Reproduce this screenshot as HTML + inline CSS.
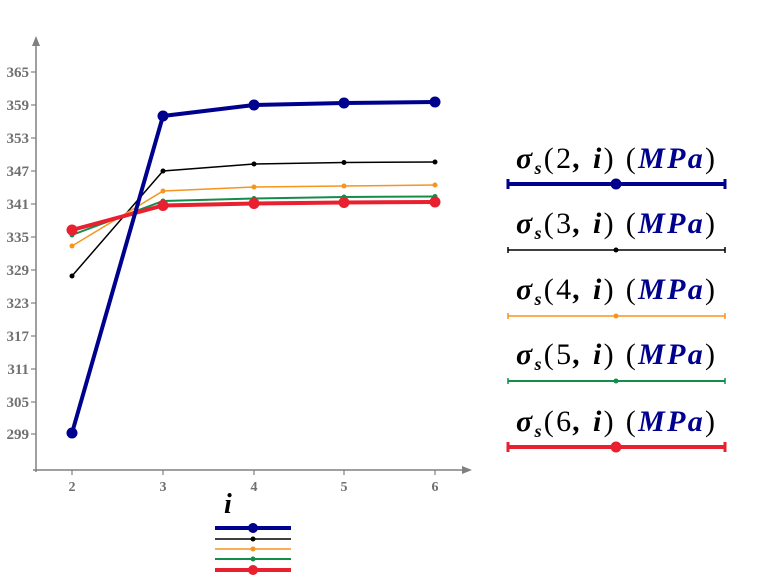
<!DOCTYPE html>
<html><head><style>body{margin:0;background:#fff}svg{display:block}</style></head><body>
<svg width="762" height="580" xmlns="http://www.w3.org/2000/svg" font-family="Liberation Serif, serif">
<rect width="762" height="580" fill="#fff"/>
<g stroke="#808080" stroke-width="1.5" fill="none">
<line x1="36" y1="44" x2="36" y2="472"/>
<line x1="33" y1="470" x2="464" y2="470"/>
<g stroke-width="1.2">
<line x1="31" y1="72" x2="36" y2="72"/><line x1="31" y1="105" x2="36" y2="105"/><line x1="31" y1="138" x2="36" y2="138"/><line x1="31" y1="171" x2="36" y2="171"/><line x1="31" y1="204" x2="36" y2="204"/><line x1="31" y1="237" x2="36" y2="237"/><line x1="31" y1="270" x2="36" y2="270"/><line x1="31" y1="303" x2="36" y2="303"/><line x1="31" y1="336" x2="36" y2="336"/><line x1="31" y1="369" x2="36" y2="369"/><line x1="31" y1="402" x2="36" y2="402"/><line x1="31" y1="434" x2="36" y2="434"/>
<line x1="72" y1="470" x2="72" y2="475"/><line x1="163" y1="470" x2="163" y2="475"/><line x1="254" y1="470" x2="254" y2="475"/><line x1="344" y1="470" x2="344" y2="475"/><line x1="435" y1="470" x2="435" y2="475"/>
</g></g>
<polygon points="36,36 32,46 40,46" fill="#808080"/>
<polygon points="472,470 462,466 462,474" fill="#808080"/>
<g fill="#707070" font-size="15" font-weight="bold" text-anchor="end">
<text x="29" y="77">365</text><text x="29" y="110">359</text><text x="29" y="143">353</text><text x="29" y="176">347</text><text x="29" y="209">341</text><text x="29" y="242">335</text><text x="29" y="275">329</text><text x="29" y="308">323</text><text x="29" y="341">317</text><text x="29" y="374">311</text><text x="29" y="407">305</text><text x="29" y="439">299</text>
</g>
<g fill="#707070" font-size="14" font-weight="bold" text-anchor="middle">
<text x="72" y="491">2</text><text x="163" y="491">3</text><text x="254" y="491">4</text><text x="344" y="491">5</text><text x="435" y="491">6</text>
</g>
<polyline points="72,276 163,171 254,164 344,162.5 435,162" fill="none" stroke="#000" stroke-width="1.5"/>
<g fill="#000"><circle cx="72" cy="276" r="2.5"/><circle cx="163" cy="171" r="2.5"/><circle cx="254" cy="164" r="2.5"/><circle cx="344" cy="162.5" r="2.5"/><circle cx="435" cy="162" r="2.5"/></g>
<polyline points="72,246 163,191 254,187 344,186 435,185" fill="none" stroke="#F7941D" stroke-width="1.5"/>
<g fill="#F7941D"><circle cx="72" cy="246" r="2.5"/><circle cx="163" cy="191" r="2.5"/><circle cx="254" cy="187" r="2.5"/><circle cx="344" cy="186" r="2.5"/><circle cx="435" cy="185" r="2.5"/></g>
<polyline points="72,235 163,201 254,198.5 344,197 435,196.5" fill="none" stroke="#138D4A" stroke-width="2"/>
<g fill="#138D4A"><circle cx="72" cy="235" r="2.5"/><circle cx="163" cy="201" r="2.5"/><circle cx="254" cy="198.5" r="2.5"/><circle cx="344" cy="197" r="2.5"/><circle cx="435" cy="196.5" r="2.5"/></g>
<polyline points="72,230 163,205.5 254,203.5 344,202.5 435,202" fill="none" stroke="#E8202F" stroke-width="4"/>
<g fill="#E8202F"><circle cx="72" cy="230" r="5.5"/><circle cx="163" cy="205.5" r="5.5"/><circle cx="254" cy="203.5" r="5.5"/><circle cx="344" cy="202.5" r="5.5"/><circle cx="435" cy="202" r="5.5"/></g>
<polyline points="72,433 163,116 254,105 344,103 435,102" fill="none" stroke="#00008E" stroke-width="4"/>
<g fill="#00008E"><circle cx="72" cy="433" r="5.5"/><circle cx="163" cy="116" r="5.5"/><circle cx="254" cy="105" r="5.5"/><circle cx="344" cy="103" r="5.5"/><circle cx="435" cy="102" r="5.5"/></g>
<g font-size="30" font-style="italic" font-weight="bold">
<text x="516" y="168" textLength="199" lengthAdjust="spacing"><tspan>σ</tspan><tspan font-size="18" dy="6">s</tspan><tspan dy="-6" font-style="normal" font-weight="normal">(2</tspan>, i<tspan font-style="normal" font-weight="normal">)  (</tspan><tspan fill="#00008E">MPa</tspan><tspan font-style="normal" font-weight="normal">)</tspan></text>
<text x="516" y="233" textLength="199" lengthAdjust="spacing"><tspan>σ</tspan><tspan font-size="18" dy="6">s</tspan><tspan dy="-6" font-style="normal" font-weight="normal">(3</tspan>, i<tspan font-style="normal" font-weight="normal">)  (</tspan><tspan fill="#00008E">MPa</tspan><tspan font-style="normal" font-weight="normal">)</tspan></text>
<text x="516" y="299" textLength="199" lengthAdjust="spacing"><tspan>σ</tspan><tspan font-size="18" dy="6">s</tspan><tspan dy="-6" font-style="normal" font-weight="normal">(4</tspan>, i<tspan font-style="normal" font-weight="normal">)  (</tspan><tspan fill="#00008E">MPa</tspan><tspan font-style="normal" font-weight="normal">)</tspan></text>
<text x="516" y="364" textLength="199" lengthAdjust="spacing"><tspan>σ</tspan><tspan font-size="18" dy="6">s</tspan><tspan dy="-6" font-style="normal" font-weight="normal">(5</tspan>, i<tspan font-style="normal" font-weight="normal">)  (</tspan><tspan fill="#00008E">MPa</tspan><tspan font-style="normal" font-weight="normal">)</tspan></text>
<text x="516" y="431" textLength="199" lengthAdjust="spacing"><tspan>σ</tspan><tspan font-size="18" dy="6">s</tspan><tspan dy="-6" font-style="normal" font-weight="normal">(6</tspan>, i<tspan font-style="normal" font-weight="normal">)  (</tspan><tspan fill="#00008E">MPa</tspan><tspan font-style="normal" font-weight="normal">)</tspan></text>
</g>
<g>
<line x1="508" y1="184" x2="725" y2="184" stroke="#00008E" stroke-width="4"/><circle cx="616" cy="184" r="5.5" fill="#00008E"/>
<line x1="508" y1="179" x2="508" y2="189" stroke="#00008E" stroke-width="3"/><line x1="725" y1="179" x2="725" y2="189" stroke="#00008E" stroke-width="3"/>
<line x1="508" y1="250" x2="725" y2="250" stroke="#000" stroke-width="1.5"/><circle cx="616" cy="250" r="2.5"/>
<line x1="508" y1="247" x2="508" y2="253" stroke="#000" stroke-width="1.5"/><line x1="725" y1="247" x2="725" y2="253" stroke="#000" stroke-width="1.5"/>
<line x1="508" y1="316" x2="725" y2="316" stroke="#F7941D" stroke-width="1.5"/><circle cx="616" cy="316" r="2.5" fill="#F7941D"/>
<line x1="508" y1="313" x2="508" y2="319" stroke="#F7941D" stroke-width="1.5"/><line x1="725" y1="313" x2="725" y2="319" stroke="#F7941D" stroke-width="1.5"/>
<line x1="508" y1="381" x2="725" y2="381" stroke="#138D4A" stroke-width="2"/><circle cx="616" cy="381" r="2.5" fill="#138D4A"/>
<line x1="508" y1="378" x2="508" y2="384" stroke="#138D4A" stroke-width="1.5"/><line x1="725" y1="378" x2="725" y2="384" stroke="#138D4A" stroke-width="1.5"/>
<line x1="508" y1="447" x2="725" y2="447" stroke="#E8202F" stroke-width="4"/><circle cx="616" cy="447" r="5.5" fill="#E8202F"/>
<line x1="508" y1="442" x2="508" y2="452" stroke="#E8202F" stroke-width="3"/><line x1="725" y1="442" x2="725" y2="452" stroke="#E8202F" stroke-width="3"/>
</g>
<text x="224" y="513" font-size="28" font-style="italic" font-weight="bold">i</text>
<g>
<line x1="215" y1="528" x2="291" y2="528" stroke="#00008E" stroke-width="4"/><circle cx="253" cy="528" r="5" fill="#00008E"/>
<line x1="215" y1="539" x2="291" y2="539" stroke="#000" stroke-width="1.5"/><circle cx="253" cy="539" r="2.5"/>
<line x1="215" y1="549" x2="291" y2="549" stroke="#F7941D" stroke-width="1.5"/><circle cx="253" cy="549" r="2.5" fill="#F7941D"/>
<line x1="215" y1="559" x2="291" y2="559" stroke="#138D4A" stroke-width="2"/><circle cx="253" cy="559" r="2.5" fill="#138D4A"/>
<line x1="215" y1="570" x2="291" y2="570" stroke="#E8202F" stroke-width="4"/><circle cx="253" cy="570" r="5" fill="#E8202F"/>
</g>
</svg>
</body></html>
